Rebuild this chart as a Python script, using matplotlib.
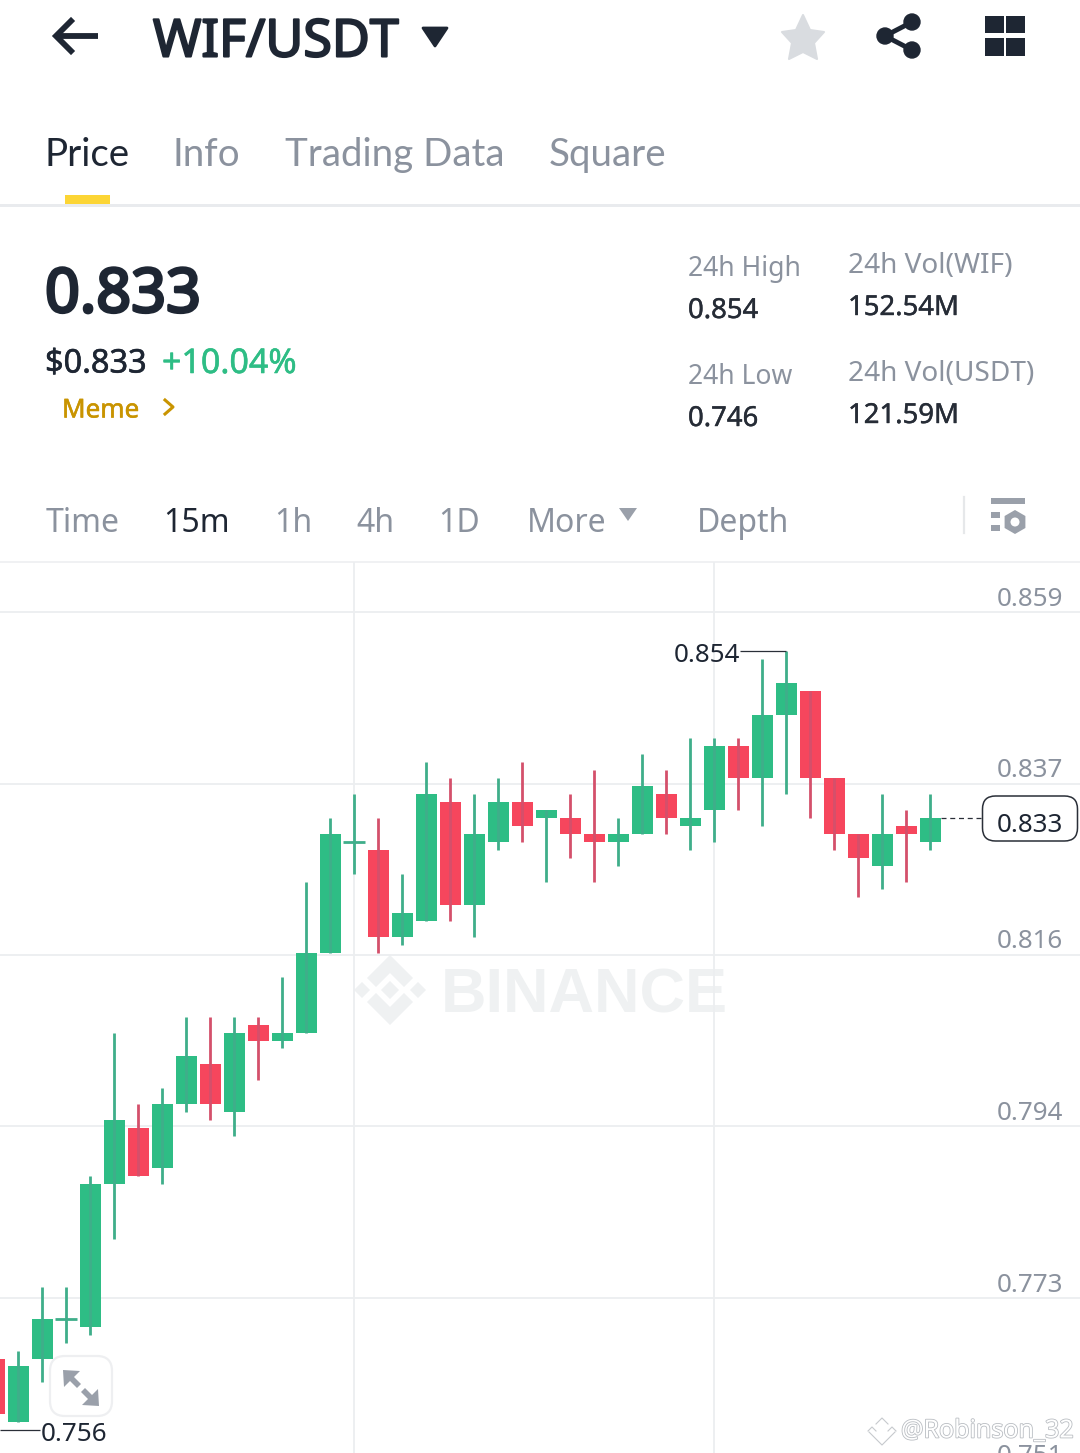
import matplotlib

matplotlib.use("Agg")
import matplotlib.patheffects as pe
import matplotlib.pyplot as plt
from matplotlib.patches import Circle, FancyBboxPatch, Polygon, Rectangle, RegularPolygon

W, H = 1080, 1453
DARK = "#1e2633"
GREY = "#8b929e"
UP = "#2ebd85"
DOWN = "#f6465d"
UP_WICK = "#3fae8a"
DOWN_WICK = "#d4506b"
GRID = "#eceef0"
ICON = "#9aa0aa"

# candles, oldest first (the first one is mostly cut off by the left edge)
OPENS = [0.765, 0.757, 0.765, 0.770, 0.769, 0.787, 0.794, 0.789, 0.797, 0.802,
         0.796, 0.807, 0.805, 0.806, 0.816, 0.830, 0.829, 0.818, 0.820, 0.835,
         0.822, 0.830, 0.835, 0.833, 0.833, 0.831, 0.830, 0.831, 0.836, 0.832,
         0.834, 0.842, 0.838, 0.846, 0.849, 0.838, 0.831, 0.827, 0.832, 0.830]
HIGHS = [0.766, 0.766, 0.774, 0.774, 0.788, 0.806, 0.797, 0.799, 0.808, 0.808,
         0.808, 0.808, 0.813, 0.825, 0.833, 0.836, 0.833, 0.826, 0.840, 0.838,
         0.836, 0.838, 0.840, 0.834, 0.836, 0.839, 0.833, 0.841, 0.839, 0.843,
         0.843, 0.843, 0.853, 0.854, 0.849, 0.838, 0.831, 0.836, 0.834, 0.836]
LOWS = [0.757, 0.757, 0.762, 0.767, 0.768, 0.780, 0.788, 0.787, 0.796, 0.795,
        0.793, 0.800, 0.804, 0.806, 0.816, 0.826, 0.816, 0.817, 0.820, 0.820,
        0.818, 0.829, 0.830, 0.825, 0.828, 0.825, 0.827, 0.831, 0.831, 0.829,
        0.830, 0.834, 0.832, 0.836, 0.833, 0.829, 0.823, 0.824, 0.825, 0.829]
CLOSES = [0.758, 0.764, 0.770, 0.770, 0.787, 0.795, 0.788, 0.797, 0.803, 0.797,
          0.806, 0.805, 0.806, 0.816, 0.831, 0.830, 0.818, 0.821, 0.836, 0.822,
          0.831, 0.835, 0.832, 0.834, 0.831, 0.830, 0.831, 0.837, 0.833, 0.833,
          0.842, 0.838, 0.846, 0.850, 0.838, 0.831, 0.828, 0.831, 0.831, 0.833]

GRID_LEVELS = [0.8589, 0.8373, 0.8158, 0.7942, 0.7726, 0.7510]
GRID_LABELS = ["0.859", "0.837", "0.816", "0.794", "0.773", "0.751"]
VERTICAL_GRID = [15, 30]
HIGH_MARK = 0.854
LOW_MARK = 0.756
LAST_PRICE = 0.833

TABS = [("Price", 44.5, DARK), ("Info", 173, GREY), ("Trading Data", 285, GREY), ("Square", 549, GREY)]
PERIODS = [("Time", 46, GREY), ("15m", 163, DARK), ("1h", 274, GREY), ("4h", 356, GREY),
           ("1D", 438, GREY), ("More", 527, GREY), ("Depth", 697, GREY)]
STATS = [("24h High", "0.854", 688, 266, 308), ("24h Vol(WIF)", "152.54M", 848, 263, 305),
         ("24h Low", "0.746", 688, 374, 416), ("24h Vol(USDT)", "121.59M", 848, 371, 413)]


def px_axes(fig, zorder):
    ax = fig.add_axes([0, 0, 1, 1], zorder=zorder)
    ax.set_xlim(0, W)
    ax.set_ylim(H, 0)
    ax.axis("off")
    ax.patch.set_alpha(0)
    return ax


def label(ax, x, y, s, size, color=DARK, family="Noto Sans", weight="normal", ha="left", stroke=0, **kw):
    # size is in pixels, the figure is saved at 100 dpi; va=center sits a little high
    t = ax.text(x, y + 3, s, fontsize=size * 0.72, color=color, family=family,
                weight=weight, ha=ha, va="center", **kw)
    if stroke:
        t.set_path_effects([pe.withStroke(linewidth=stroke, foreground=color)])
    return t


def draw_header(ui):
    # back arrow
    ui.plot([56, 98], [36, 36], color=DARK, lw=4.2, solid_capstyle="butt")
    ui.plot([71, 56, 71], [21, 36, 51], color=DARK, lw=4.2, solid_joinstyle="miter")
    label(ui, 153, 40, "WIF/USDT", 52, stroke=1.5)
    ui.add_patch(Polygon([(423, 28), (447, 28), (435, 46)], closed=True, fc=DARK, ec=DARK, lw=2, joinstyle="round"))

    star = [(803, 15), (810, 30), (824, 32), (814, 43), (817, 59), (803, 52), (789, 59),
            (792, 43), (782, 32), (796, 30)]
    ui.add_patch(Polygon(star, closed=True, fc="#d9dce0", ec="#d9dce0", lw=1.5, joinstyle="round"))

    ui.plot([912, 885, 912], [22, 36, 50], color=DARK, lw=3.5)
    for cx, cy, r in [(885, 36, 8), (912, 22, 8), (912, 50, 8)]:
        ui.add_patch(Circle((cx, cy), r, color=DARK))

    for x0, y0, h in [(985, 16, 17), (1006, 16, 17), (985, 38, 18), (1006, 38, 18)]:
        ui.add_patch(Rectangle((x0, y0), 19, h, color=DARK, lw=0))

    for name, x, color in TABS:
        label(ui, x, 152, name, 38.5, color=color, family="Lato")
    ui.add_patch(Rectangle((0, 204), W, 2.5, color="#e9ebee", lw=0))
    ui.add_patch(Rectangle((65, 195), 45, 9, color="#fcd535", lw=0))


def draw_summary(ui):
    label(ui, 45, 293, "0.833", 61, stroke=2.2)
    label(ui, 45, 361, "$0.833", 32.5, stroke=0.4)
    label(ui, 162, 361, "+10.04%", 34, color=UP, stroke=0.4)
    label(ui, 62, 408, "Meme", 26, color="#c99400", stroke=0.4)
    ui.plot([165, 173, 165], [400, 407, 414], color="#c99400", lw=2.2)
    for title, value, x, y_title, y_value in STATS:
        label(ui, x, y_title, title, 26.5 if x < 800 else 28, color=GREY)
        label(ui, x, y_value, value, 27.5, color="#262c36", stroke=0.3)


def draw_periods(ui):
    for name, x, color in PERIODS:
        label(ui, x, 520, name, 32, color=color)
    ui.add_patch(Polygon([(619, 508), (637, 508), (628, 521)], closed=True, color=ICON, lw=0))
    ui.plot([964, 964], [497, 533], color="#e6e8ea", lw=1.6)
    ui.add_patch(Rectangle((991, 498), 34, 6, color=ICON, lw=0))
    ui.add_patch(Rectangle((991, 512), 9, 6, color=ICON, lw=0))
    ui.add_patch(Rectangle((991, 525), 9, 6, color=ICON, lw=0))
    ui.add_patch(RegularPolygon((1015, 522), 6, radius=12, color=ICON, lw=0))
    ui.add_patch(Circle((1015, 522), 4.5, color="white", lw=0))
    ui.add_patch(Rectangle((0, 560.5), W, 2, color="#f0f1f3", lw=0))


def draw_watermark(ui):
    mark = "#eff1f2"
    for cx, cy, r in [(390, 990, 9), (362, 990, 8), (418, 990, 8)]:
        ui.add_patch(Polygon([(cx - r, cy), (cx, cy - r), (cx + r, cy), (cx, cy + r)], closed=True, color=mark, lw=0))
    top = [(390, 955), (413, 978), (404, 987), (390, 973), (376, 987), (367, 978)]
    ui.add_patch(Polygon(top, closed=True, color=mark, lw=0))
    ui.add_patch(Polygon([(x, 1980 - y) for x, y in top], closed=True, color=mark, lw=0))
    label(ui, 441, 993, "BINANCE", 63, color=mark, weight="bold", family="Liberation Sans")

    # small outlined signature at the bottom
    for c, r in [((882, 1424), 6), ((872, 1431), 4), ((892, 1431), 4)]:
        ui.plot([c[0] - r, c[0], c[0] + r], [c[1], c[1] - r, c[1]], color="#c6c9cd", lw=0.8)
    ui.plot([869, 882, 895], [1432, 1445, 1432], color="#c6c9cd", lw=0.8)
    label(ui, 901, 1428, "@Robinson_32", 25, color="white",
          path_effects=[pe.withStroke(linewidth=1.2, foreground="#b9bdc2")])


def draw_candles(ax):
    xs = range(len(OPENS))
    for i in xs:
        o, h, l, c = OPENS[i], HIGHS[i], LOWS[i], CLOSES[i]
        rising = c >= o
        ax.vlines(i, l, h, color=UP_WICK if rising else DOWN_WICK, lw=2.0)
        if o == c:
            ax.hlines(o, i - 0.44, i + 0.44, color=UP_WICK, lw=2.0)
        else:
            ax.bar(i, abs(c - o), 0.875, bottom=min(o, c), color=UP if rising else DOWN, lw=0)


def draw_chart(ax):
    for level, text in zip(GRID_LEVELS, GRID_LABELS):
        ax.axhline(level, color=GRID, lw=1.3, zorder=0)
        ax.annotate(text, (1, level), xycoords=("axes fraction", "data"), xytext=(-17, 13),
                    textcoords="offset pixels", ha="right", va="center",
                    fontsize=26 * 0.72, color=GREY, family="Noto Sans", annotation_clip=False)
    for x in VERTICAL_GRID:
        ax.axvline(x, color=GRID, lw=1.3, zorder=0)
    draw_candles(ax)

    # high / low markers
    peak = HIGHS.index(HIGH_MARK)
    ax.hlines(HIGH_MARK, peak - 1.9, peak, color="#2a2f38", lw=0.9)
    ax.annotate(f"{HIGH_MARK:.3f}", (peak - 1.9, HIGH_MARK), xytext=(0, -5), textcoords="offset pixels",
                ha="right", va="center", fontsize=26 * 0.72, color=DARK, family="Noto Sans")
    ax.hlines(LOW_MARK, 0.25, 1.9, color="#2a2f38", lw=0.9)
    ax.annotate(f"{LOW_MARK:.3f}", (1.9, LOW_MARK), xytext=(1, -4), textcoords="offset pixels",
                ha="left", va="center", fontsize=26 * 0.72, color=DARK, family="Noto Sans", zorder=5)

    # last price tag
    last = len(OPENS) - 1
    ax.hlines(LAST_PRICE, last + 0.45, last + 2.2, color="#2a2f38", lw=0.9, linestyles=(0, (4, 3)))


def main():
    fig = plt.figure(figsize=(W / 100, H / 100), dpi=100, facecolor="white")
    ui = px_axes(fig, 0)
    draw_header(ui)
    draw_summary(ui)
    draw_periods(ui)
    draw_watermark(ui)

    # chart area: y 562..1453 px, candles 24 px apart
    ax = fig.add_axes([0, 0, 1, (H - 562) / H], zorder=1)
    ax.patch.set_alpha(0)
    ax.set_xlim(0.25, 45.25)
    ax.set_ylim(0.75312, 0.86519)
    ax.axis("off")
    draw_chart(ax)

    top = px_axes(fig, 2)
    top.add_patch(FancyBboxPatch((982.5, 796), 95, 45, boxstyle="round,pad=0,rounding_size=13",
                                 fc="white", ec="#2a2f38", lw=1.1))
    label(top, 1030, 822, f"{LAST_PRICE:.3f}", 26, ha="center")
    top.add_patch(FancyBboxPatch((50, 1356), 62, 60, boxstyle="round,pad=0,rounding_size=15",
                                 fc="white", ec="#eeeff1", lw=1.6))
    for tip, s in [((63, 1370), 1), ((99, 1406), -1)]:
        x, y = tip
        arrow = [(x, y), (x + 17 * s, y + s), (x + 11 * s, y + 7 * s), (x + 18 * s, y + 14 * s),
                 (x + 14 * s, y + 18 * s), (x + 7 * s, y + 11 * s), (x + s, y + 17 * s)]
        top.add_patch(Polygon(arrow, closed=True, color=ICON, lw=0))

    fig.savefig("out.png", dpi=100)


if __name__ == "__main__":
    main()
